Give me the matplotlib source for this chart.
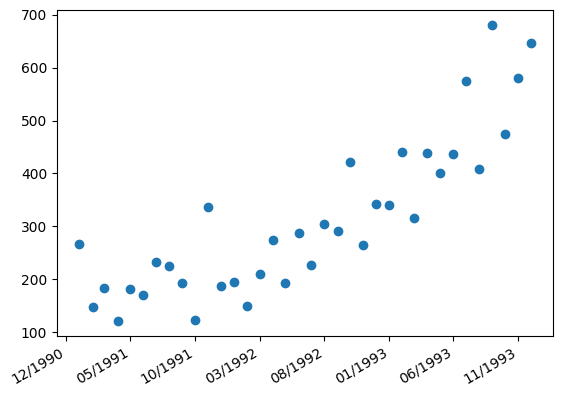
import pandas as pd
import matplotlib
matplotlib.use("Agg")
import matplotlib.pyplot as plt
import matplotlib.dates as mdates

## datos mensuales, ene 1991 a dic 1993
months = pd.date_range("1991-01-01", "1993-12-01", freq="MS")
values = [267, 148, 184, 121, 182, 170, 232, 225, 193, 123, 336, 188,
          194, 150, 210, 274, 193, 288, 227, 305, 291, 422, 264, 342,
          340, 441, 316, 439, 401, 437, 575, 408, 681, 475, 581, 647]

tick_labels = ["12/1990", "05/1991", "10/1991", "03/1992",
               "08/1992", "01/1993", "06/1993", "11/1993"]
tick_dates = pd.to_datetime(tick_labels, format="%m/%Y")

fig, ax = plt.subplots(figsize=(5.63, 3.97), dpi=100)
ax.scatter(months, values)

ax.set_xticks(tick_dates)
ax.xaxis.set_major_formatter(mdates.DateFormatter("%m/%Y"))
fig.autofmt_xdate()

fig.subplots_adjust(left=0.101, right=0.983, top=0.975, bottom=0.154)
fig.savefig("out.png", dpi=100)
